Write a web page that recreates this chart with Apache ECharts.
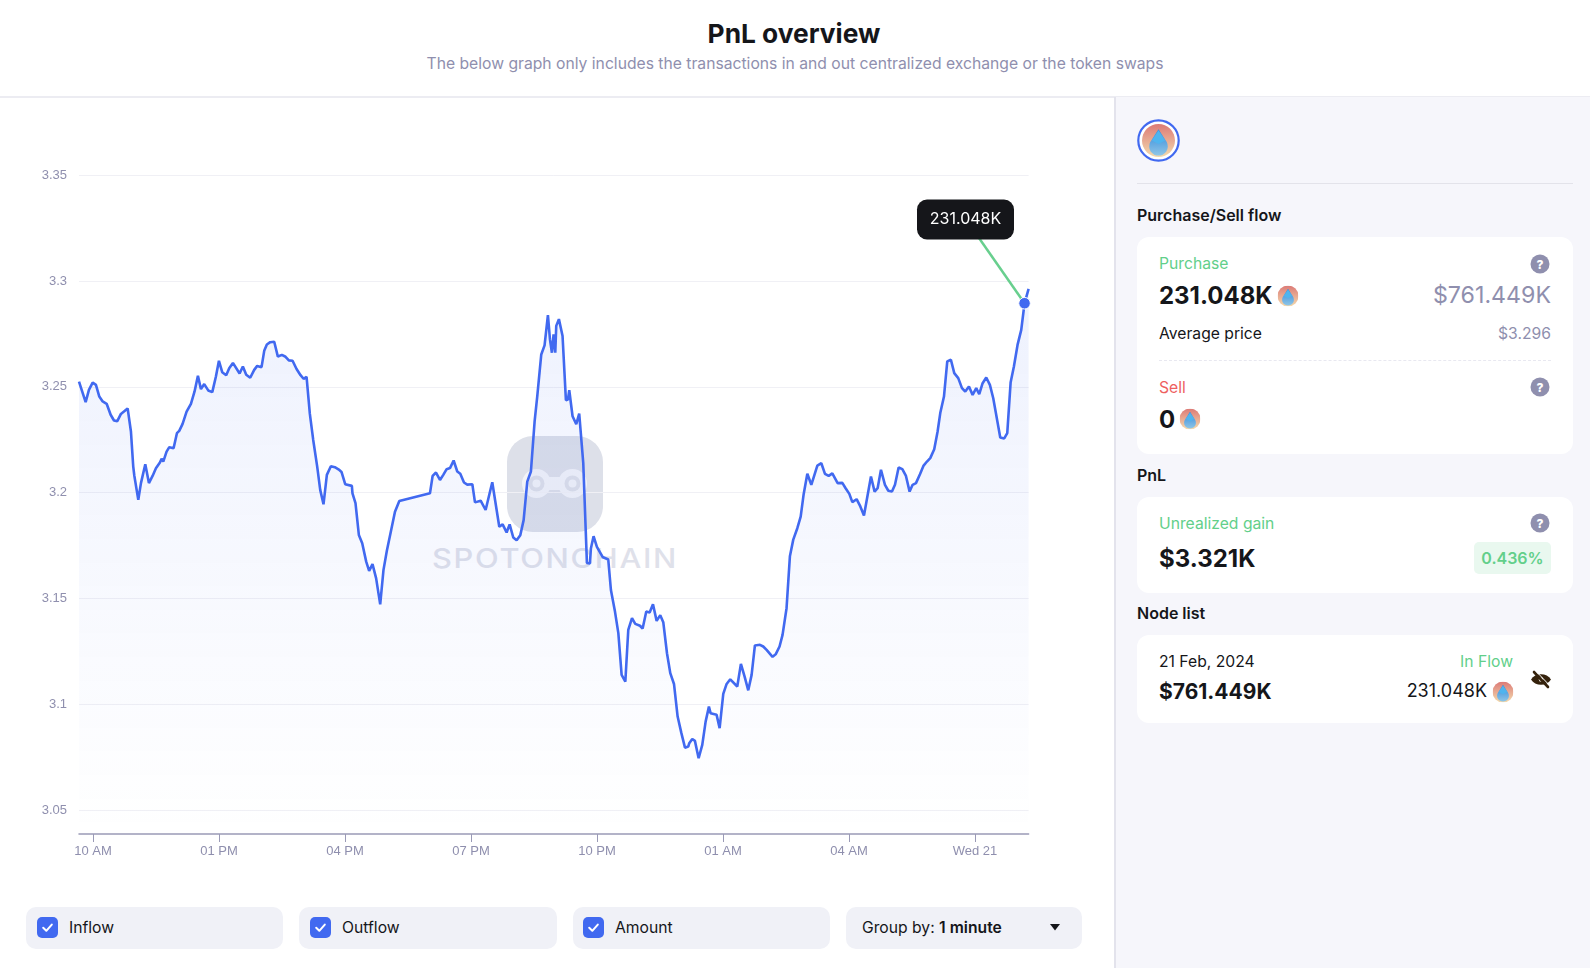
<!DOCTYPE html>
<html>
<head>
<meta charset="utf-8">
<title>PnL overview</title>
<script src="https://cdn.jsdelivr.net/npm/echarts@6/dist/echarts.min.js"></script>
<style>
  html, body { margin: 0; padding: 0; background: #fff; }
  body { position: relative; width: 1590px; height: 968px; overflow: hidden; font-family: Inter, "Noto Sans", sans-serif; color: #15161a; }
  .abs { position: absolute; }
  .t { position: absolute; white-space: nowrap; transform: translateY(-50%); line-height: 1.2; margin-top: 1px; }
  .r { transform: translate(-100%, -50%); }
  .head { font-size: 16px; font-weight: 600; }
  .big { font-size: 24px; font-weight: 700; }
  .n16 { font-size: 15.7px; }
  .green { color: #62cf8a; }
  .muted { color: #8f8fae; }
  .card { position: absolute; left: 1137px; width: 436px; background: #fff; border-radius: 12px; }
  .help { position: absolute; width: 19px; height: 19px; border-radius: 50%; background: #8f8fae; color: #fff; font-size: 12px; font-weight: 800; text-align: center; line-height: 19px; transform: translate(-50%, -50%); }
  .tok { position: absolute; width: 21px; height: 21px; transform: translate(-50%, -50%); }
  .btn { position: absolute; top: 907px; height: 42px; background: #f0f1f7; border-radius: 10px; }
  .check { position: absolute; top: 917px; width: 21px; height: 21px; background: #4169f0; border-radius: 5px; }
  .check svg { display: block; }
</style>
</head>
<body>
<svg width="0" height="0" style="position:absolute">
  <defs>
    <linearGradient id="tokBg" x1="0" y1="0" x2="0" y2="1"><stop offset="0" stop-color="#dc7a76"/><stop offset="1" stop-color="#f3dbae"/></linearGradient>
    <linearGradient id="tokDrop" x1="0" y1="0" x2="0" y2="1"><stop offset="0" stop-color="#2f86dc"/><stop offset="1" stop-color="#8fc6e6"/></linearGradient>
    <symbol id="token" viewBox="0 0 32 32">
      <circle cx="16" cy="16" r="16" fill="url(#tokBg)"/>
      <path d="M16 5 L24 17.5 A9 9 0 1 1 8 17.5 Z" fill="url(#tokDrop)"/>
      <path d="M16 6 L22.5 16 L16 19.5 L9.5 16 Z" fill="#4fb4ee"/>
    </symbol>
    <symbol id="tick" viewBox="0 0 21 21">
      <path d="M6.2 10.8 L9.3 13.8 L14.8 7.6" fill="none" stroke="#fff" stroke-width="2" stroke-linecap="round" stroke-linejoin="round"/>
    </symbol>
  </defs>
</svg>

<!-- header -->
<div class="abs" style="left:0;top:0;width:1590px;height:96px;border-bottom:2px solid #ececf2;box-sizing:content-box"></div>
<div class="t" style="left:794px;top:33px;transform:translate(-50%,-50%);font-size:26.3px;font-weight:700">PnL overview</div>
<div class="t muted" style="left:795px;top:63px;transform:translate(-50%,-50%);font-size:15.7px">The below graph only includes the transactions in and out centralized exchange or the token swaps</div>

<!-- watermark, sits under the chart canvas -->
<svg class="abs" style="left:507px;top:436px" width="96" height="96" viewBox="0 0 96 96">
  <rect width="96" height="96" rx="26" fill="#dde0e9"/>
  <circle cx="29.5" cy="47.5" r="14.5" fill="#f2f3f8"/>
  <circle cx="65.5" cy="47.5" r="14.5" fill="#f2f3f8"/>
  <rect x="29" y="41" width="37" height="13" fill="#f2f3f8"/>
  <circle cx="29.5" cy="47.5" r="8" fill="#dde0e9"/><circle cx="29.5" cy="47.5" r="4" fill="#f2f3f8"/>
  <circle cx="65.5" cy="47.5" r="8" fill="#dde0e9"/><circle cx="65.5" cy="47.5" r="4" fill="#f2f3f8"/>
</svg>
<div class="t" style="left:432px;top:557px;font-size:27.5px;font-weight:500;letter-spacing:1.5px;color:#dfe1ea;transform:translateY(-50%) scaleX(1.12);transform-origin:left center">SPOTONCHAIN</div>

<div id="main" class="abs" style="left:0;top:0;width:1114px;height:900px"></div>

<!-- bottom controls -->
<div class="btn" style="left:26px;width:257px"></div>
<div class="check" style="left:37px"><svg width="21" height="21"><use href="#tick"/></svg></div>
<div class="t n16" style="left:69px;top:927px">Inflow</div>
<div class="btn" style="left:299px;width:258px"></div>
<div class="check" style="left:310px"><svg width="21" height="21"><use href="#tick"/></svg></div>
<div class="t n16" style="left:342px;top:927px">Outflow</div>
<div class="btn" style="left:573px;width:257px"></div>
<div class="check" style="left:583px"><svg width="21" height="21"><use href="#tick"/></svg></div>
<div class="t n16" style="left:615px;top:927px">Amount</div>
<div class="btn" style="left:846px;width:236px"></div>
<div class="t n16" style="left:862px;top:927px">Group by: <b style="font-weight:600">1 minute</b></div>
<svg class="abs" style="left:1050px;top:924px" width="10" height="7"><path d="M0 0 L10 0 L5 6.5 Z" fill="#15161a"/></svg>

<!-- right panel -->
<div class="abs" style="left:1114px;top:97px;width:476px;height:871px;background:#f6f6fb;border-left:2px solid #e3e3ec;box-sizing:border-box"></div>
<svg class="abs" style="left:1137px;top:119px" width="43" height="43">
  <circle cx="21.5" cy="21.5" r="20.2" fill="#fff" stroke="#4169f0" stroke-width="2.2"/>
  <use href="#token" x="5" y="5" width="33" height="33"/>
</svg>
<div class="abs" style="left:1137px;top:183px;width:436px;height:1px;background:#e3e3ea"></div>

<div class="t head" style="left:1137px;top:215px">Purchase/Sell flow</div>
<div class="card" style="top:237px;height:217px"></div>
<div class="t n16 green" style="left:1159px;top:263px">Purchase</div>
<div class="help" style="left:1540px;top:264px">?</div>
<div class="t big" style="left:1159px;top:295px">231.048K</div>
<svg class="tok" style="left:1288px;top:296px"><use href="#token"/></svg>
<div class="t r muted" style="left:1551px;top:295px;font-size:23.2px">$761.449K</div>
<div class="t n16" style="left:1159px;top:333px">Average price</div>
<div class="t r n16 muted" style="left:1551px;top:333px">$3.296</div>
<div class="abs" style="left:1159px;top:360px;width:392px;border-top:1px dashed #e8e8f0"></div>
<div class="t n16" style="left:1159px;top:387px;color:#ee5f5f">Sell</div>
<div class="help" style="left:1540px;top:387px">?</div>
<div class="t big" style="left:1159px;top:419px">0</div>
<svg class="tok" style="left:1190px;top:419px"><use href="#token"/></svg>

<div class="t head" style="left:1137px;top:475px">PnL</div>
<div class="card" style="top:497px;height:96px"></div>
<div class="t n16 green" style="left:1159px;top:523px">Unrealized gain</div>
<div class="help" style="left:1540px;top:523px">?</div>
<div class="t big" style="left:1159px;top:558px">$3.321K</div>
<div class="abs green" style="left:1474px;top:542px;width:77px;height:32px;background:#e9f8ef;border-radius:5px;text-align:center;line-height:33px;font-size:16px;font-weight:600">0.436%</div>

<div class="t head" style="left:1137px;top:613px">Node list</div>
<div class="card" style="top:635px;height:88px"></div>
<div class="t n16" style="left:1159px;top:661px">21 Feb, 2024</div>
<div class="t" style="left:1159px;top:691px;font-size:21px;font-weight:700">$761.449K</div>
<div class="t r n16 green" style="left:1513px;top:661px">In Flow</div>
<div class="t r" style="left:1487px;top:690px;font-size:18px">231.048K</div>
<svg class="tok" style="left:1503px;top:692px"><use href="#token"/></svg>
<svg class="abs" style="left:1530px;top:670px" width="22" height="19" viewBox="0 0 22 19">
  <path d="M1 9.5 C5 2.5 17 2.5 21 9.5 C17 16.5 5 16.5 1 9.5 Z" fill="#35220c"/>
  <circle cx="11" cy="9.5" r="2.2" fill="#f4efe6"/>
  <path d="M4 2 L18 17" stroke="#35220c" stroke-width="2.6" stroke-linecap="round"/>
  <path d="M6.2 1.4 L19.8 15.6" stroke="#fff" stroke-width="1"/>
</svg>

<script>
// minutes after 10 AM
const minutes = [
  -20, -10.5, -5.8, -0.5, 4.2, 9, 13.8, 19.5, 25.2, 30, 34.7, 39.9, 44.2, 45.6, 49.5, 54.2, 57.5, 59, 60.9, 64.7,
  68.5, 74.7, 79.9, 85.1, 89.9, 95.6, 98, 100.4, 105.1, 109, 115.1, 119.9, 123.2, 128, 133.7, 139.9, 145.1, 149.9, 154.2, 158.9,
  164.6, 170.4, 175.6, 179.9, 181.8, 184.6, 190.3, 194.6, 199.9, 209.4, 214.1, 218.9, 224.6, 230.3, 234.6, 240.8, 244.6, 248.4, 253.2, 258.9,
  264.1, 269.8, 275.1, 279.8, 285.1, 290.8, 296.5, 300.8, 305.1, 309.8, 314.6, 320.3, 324.6, 329.3, 334.1, 339.8, 345.5, 351.2, 355, 360.3,
  369.8, 370.7, 375, 379.8, 384.6, 390.3, 394.5, 399.3, 404.5, 410.3, 415, 419.8, 431.4, 437.6, 481.4, 485.2, 490, 495.7, 500.4, 505.2,
  510, 515.2, 520.4, 524.7, 530, 534.7, 541.9, 545.7, 553.8, 560.9, 570.4, 580.4, 585.2, 590.9, 595.2, 600.4, 605.2, 610.4, 615.2, 620.4,
  625.6, 630.9, 634.7, 640.4, 645.1, 649.9, 652.8, 655.6, 658, 660.4, 661.8, 665.6, 670.8, 675.6, 678.5, 680.4, 685.1, 690.4, 694.6, 700.4,
  705.6, 709.9, 711.3, 715.1, 719.9, 722.7, 728, 736.1, 739.9, 745.7, 750.5, 755.2, 760.5, 764.7, 770, 774.7, 781.4, 785.2, 790.4, 795.2,
  800, 805.2, 810.4, 814.7, 820, 824.7, 830, 835.2, 840.4, 845.7, 850.4, 851.8, 856.1, 859.9, 865.2, 870.4, 875.2, 879.9, 882.3, 890.9,
  895.2, 900.4, 905.2, 910.4, 920.4, 925.6, 930.9, 936.1, 940.9, 945.6, 952.8, 957.5, 962.3, 970.8, 975.6, 980.8, 985.1, 990.8, 995.6, 1000.4,
  1006.2, 1011, 1015.3, 1020.5, 1022.9, 1026.2, 1034.8, 1040.5, 1045.7, 1051, 1056.2, 1063.8, 1070.5, 1075.2, 1080.5, 1084.8, 1090.9, 1096.2, 1101.4, 1111.4,
  1116.6, 1120.9, 1125.7, 1131.4, 1136.2, 1141.4, 1145.7, 1150.9, 1156.2, 1161.4, 1166.6, 1170.9, 1175.7, 1181.4, 1186.6, 1191.4, 1196.1, 1201.8, 1206.6, 1210.4,
  1215.7, 1220.4, 1225.6, 1230.4, 1236.1, 1241.4, 1246.1, 1251.4, 1256.6, 1261.8, 1266.1, 1270.9, 1276.1, 1281.3, 1286.1, 1296.1, 1301.8, 1306.1, 1310.9, 1315.6,
  1320.8, 1326.1, 1330.8, 1336.6
];
const prices = [
  3.2525, 3.2428, 3.2486, 3.2520, 3.2509, 3.2454, 3.2431, 3.2420, 3.2368, 3.2341, 3.2338, 3.2372, 3.2383, 3.2379, 3.2398, 3.2289, 3.2123, 3.2081, 3.2076, 3.1966,
  3.2045, 3.2134, 3.2045, 3.2079, 3.2115, 3.2142, 3.2160, 3.2147, 3.2194, 3.2215, 3.2210, 3.2281, 3.2292, 3.2325, 3.2383, 3.2420, 3.2478, 3.2552, 3.2489, 3.2513,
  3.2483, 3.2475, 3.2549, 3.2623, 3.2623, 3.2569, 3.2555, 3.2588, 3.2613, 3.2563, 3.2596, 3.2557, 3.2543, 3.2580, 3.2599, 3.2593, 3.2670, 3.2700, 3.2711, 3.2713,
  3.2643, 3.2651, 3.2642, 3.2625, 3.2623, 3.2584, 3.2555, 3.2538, 3.2547, 3.2372, 3.2249, 3.2123, 3.2013, 3.1945, 3.2084, 3.2125, 3.2120, 3.2109, 3.2098, 3.2040,
  3.2032, 3.1997, 3.1950, 3.1800, 3.1761, 3.1674, 3.1630, 3.1662, 3.1595, 3.1472, 3.1635, 3.1725, 3.1910, 3.1961, 3.1997, 3.2079, 3.2095, 3.2060, 3.2084, 3.2111,
  3.2116, 3.2152, 3.2100, 3.2089, 3.2048, 3.2038, 3.2040, 3.1954, 3.1962, 3.1918, 3.2049, 3.1839, 3.1850, 3.1812, 3.1850, 3.1788, 3.1775, 3.1799, 3.1870, 3.2052,
  3.2100, 3.2337, 3.2456, 3.2653, 3.2696, 3.2839, 3.2725, 3.2661, 3.2748, 3.2661, 3.2788, 3.2820, 3.2740, 3.2437, 3.2440, 3.2484, 3.2361, 3.2324, 3.2373, 3.2139,
  3.1668, 3.1665, 3.1736, 3.1794, 3.1744, 3.1736, 3.1696, 3.1684, 3.1540, 3.1438, 3.1336, 3.1139, 3.1107, 3.1352, 3.1407, 3.1380, 3.1371, 3.1358, 3.1438, 3.1434,
  3.1473, 3.1394, 3.1421, 3.1388, 3.1241, 3.1147, 3.1096, 3.0942, 3.0866, 3.0795, 3.0800, 3.0816, 3.0836, 3.0827, 3.0745, 3.0808, 3.0918, 3.0989, 3.0958, 3.0950,
  3.0887, 3.1049, 3.1096, 3.1118, 3.1084, 3.1191, 3.1131, 3.1066, 3.1139, 3.1278, 3.1281, 3.1273, 3.1257, 3.1224, 3.1238, 3.1273, 3.1328, 3.1454, 3.1699, 3.1778,
  3.1832, 3.1887, 3.1994, 3.2089, 3.2089, 3.2037, 3.2128, 3.2139, 3.2089, 3.2079, 3.2091, 3.2045, 3.2046, 3.2021, 3.1994, 3.1955, 3.1969, 3.1935, 3.1892, 3.2076,
  3.2005, 3.2021, 3.2108, 3.2037, 3.2009, 3.2005, 3.2037, 3.2119, 3.2111, 3.2079, 3.2005, 3.2037, 3.2045, 3.2087, 3.2128, 3.2147, 3.2163, 3.2205, 3.2289, 3.2376,
  3.2454, 3.2620, 3.2628, 3.2565, 3.2541, 3.2494, 3.2478, 3.2502, 3.2462, 3.2494, 3.2465, 3.2517, 3.2544, 3.2509, 3.2446, 3.2261, 3.2256, 3.2281, 3.2520, 3.2596,
  3.2698, 3.2769, 3.2895, 3.2963
];
const xTicks = [0, 180, 360, 540, 720, 900, 1080, 1260];
const xLabels = ['10 AM', '01 PM', '04 PM', '07 PM', '10 PM', '01 AM', '04 AM', 'Wed 21'];
const yTicks = [3.05, 3.1, 3.15, 3.2, 3.25, 3.3, 3.35];
const nodePoint = [1330.8, 3.2895];
const nodeLabel = '231.048K';

const myChart = echarts.init(document.getElementById('main'));
const axisFont = { color: '#8f8fae', fontSize: 13, fontFamily: '"Liberation Sans", Arial, sans-serif' };

// node marker: dot on the line, green leader and the dark callout above it
const renderNode = (params, api) => {
  const p = api.coord([api.value(0), api.value(1)]);
  return {
    type: 'group',
    children: [
      { type: 'line', shape: { x1: p[0], y1: p[1], x2: 979, y2: 238 }, style: { stroke: '#68cf8e', lineWidth: 2.5 } },
      { type: 'rect', shape: { x: 917, y: 199.5, width: 97, height: 40, r: 10 }, style: { fill: '#15161a' } },
      { type: 'text', style: { text: nodeLabel, x: 965.5, y: 219.5, align: 'center', verticalAlign: 'middle', fill: '#fff', font: '16px Inter' } },
      { type: 'circle', shape: { cx: p[0], cy: p[1], r: 5.8 }, style: { fill: '#4169f0', stroke: '#fff', lineWidth: 1 } }
    ]
  };
};

myChart.setOption({
  animation: false,
  grid: { left: 79, top: 175.2, width: 949.6, height: 658.8 },
  xAxis: {
    type: 'value',
    min: -20,
    max: 1336.6,
    splitLine: { show: false },
    axisLine: { lineStyle: { color: '#9a9ab6', width: 1.5 } },
    axisTick: { customValues: xTicks, length: 8, lineStyle: { color: '#9a9ab6', width: 1 } },
    axisLabel: {
      ...axisFont,
      margin: 11,
      customValues: xTicks,
      formatter: (v) => xLabels[xTicks.indexOf(v)]
    }
  },
  yAxis: {
    type: 'value',
    min: 3.0387,
    max: 3.35,
    axisLine: { show: false },
    axisTick: { show: false, customValues: yTicks },
    splitLine: { lineStyle: { color: '#f0f0f5', width: 1 } },
    axisLabel: { ...axisFont, margin: 12, padding: [4, 0, 0, 0], customValues: yTicks, formatter: (v) => String(v) }
  },
  series: [
    {
      type: 'line',
      data: minutes.map((m, i) => [m, prices[i]]),
      showSymbol: false,
      smooth: false,
      lineStyle: { color: '#4169f0', width: 2.6 },
      areaStyle: {
        origin: 'start',
        color: new echarts.graphic.LinearGradient(0, 0, 0, 1, [
          { offset: 0, color: 'rgba(65,105,240,0.13)' },
          { offset: 1, color: 'rgba(65,105,240,0)' }
        ])
      },
      z: 2
    },
    {
      type: 'custom',
      data: [nodePoint],
      encode: { x: 0, y: 1 },
      clip: false,
      renderItem: renderNode,
      z: 3
    }
  ]
});
</script>
</body>
</html>
